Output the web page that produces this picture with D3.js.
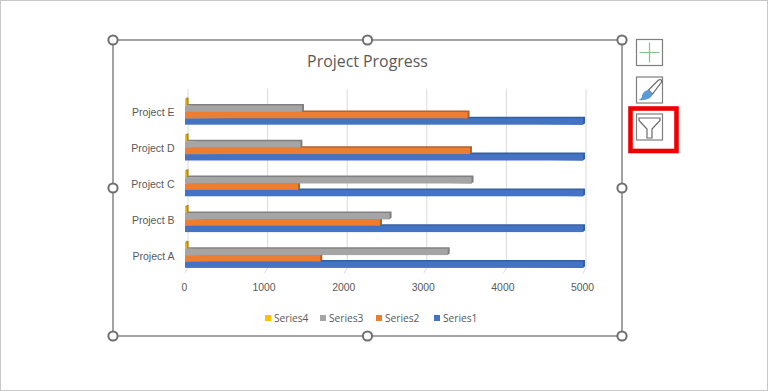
<!DOCTYPE html>
<html>
<head>
<meta charset="utf-8">
<script src="https://cdn.jsdelivr.net/npm/d3@7"></script>
<style>
  html, body { margin: 0; padding: 0; background: #fff; }
  svg { display: block; font-family: "Open Sans", sans-serif; }
</style>
</head>
<body>
<div id="chart"></div>
<script>
// --- Data ---
const categories = ["Project E", "Project D", "Project C", "Project B", "Project A"];
const seriesNames = ["Series4", "Series3", "Series2", "Series1"];
const series4 = [20, 20, 20, 20, 20];
const series3 = [1470, 1450, 3600, 2570, 3300];
const series2 = [3550, 3580, 1420, 2450, 1700];
const series1 = [5000, 5000, 5000, 5000, 5000];
const xTicks = [0, 1000, 2000, 3000, 4000, 5000];
const title = "Project Progress";

const seriesValues = { Series4: series4, Series3: series3, Series2: series2, Series1: series1 };
const front = { Series4: "#ffc000", Series3: "#a5a5a5", Series2: "#ed7d31", Series1: "#4472c4" };
const shade = { Series4: "#b58a12", Series3: "#808080", Series2: "#b0602a", Series1: "#35609f" };

const width = 768, height = 391;
const frame = { left: 113, top: 40, right: 622, bottom: 336 };
const depth = { x: 2, y: 1.5 };   // fake 3D offset of the bars
const wallOffset = 3;             // gridlines sit on the back wall

const svg = d3.select("#chart").append("svg")
  .attr("width", width)
  .attr("height", height);

// window edge
svg.append("rect")
  .attr("x", 0.5).attr("y", 0.5)
  .attr("width", width - 1).attr("height", height - 1)
  .attr("fill", "#fff").attr("stroke", "#c8c8c8");

// --- Selection frame and handles ---
const midX = (frame.left + frame.right) / 2;
const midY = (frame.top + frame.bottom) / 2;
svg.append("rect")
  .attr("x", frame.left).attr("y", frame.top)
  .attr("width", frame.right - frame.left).attr("height", frame.bottom - frame.top)
  .attr("fill", "#fff").attr("stroke", "#8c8c8c").attr("stroke-width", 1.6);

const handles = [
  [frame.left, frame.top], [midX, frame.top], [frame.right, frame.top],
  [frame.left, midY], [frame.right, midY],
  [frame.left, frame.bottom], [midX, frame.bottom], [frame.right, frame.bottom]
];
svg.selectAll(".handle").data(handles).enter().append("circle")
  .attr("class", "handle")
  .attr("cx", d => d[0]).attr("cy", d => d[1]).attr("r", 4.6)
  .attr("fill", "#fff").attr("stroke", "#6f6f6f").attr("stroke-width", 2);

// --- Title ---
svg.append("text")
  .attr("x", 367.5).attr("y", 67)
  .attr("text-anchor", "middle")
  .attr("font-size", 15.9)
  .attr("fill", "#595959")
  .text(title);

// --- Scales ---
const x = d3.scaleLinear().domain([0, 5000]).range([185, 583]);
const y = d3.scaleBand().domain(categories).range([94, 273]).paddingInner(0.285).paddingOuter(0.1425);
const inner = d3.scaleBand().domain(seriesNames).range([0, y.bandwidth()]);

// --- Gridlines on the back wall, with the little floor ticks ---
const plotTop = 89, plotBottom = 268;
svg.append("g").selectAll("line").data(xTicks).enter().append("line")
  .attr("x1", d => x(d) + wallOffset).attr("x2", d => x(d) + wallOffset)
  .attr("y1", plotTop).attr("y2", plotBottom)
  .attr("stroke", "#d9d9d9");
svg.append("g").selectAll("line").data(xTicks).enter().append("line")
  .attr("x1", d => x(d)).attr("x2", d => x(d) + wallOffset)
  .attr("y1", plotBottom + 5).attr("y2", plotBottom)
  .attr("stroke", "#d9d9d9");

// --- Bars: bottom series first so upper fronts cover the top faces below ---
const barData = seriesNames.slice().reverse().flatMap(name =>
  categories.map((cat, i) => ({ name, cat, value: seriesValues[name][i] })));

const bars = svg.append("g").selectAll("g").data(barData).enter().append("g");

const barTop = d => y(d.cat) + inner(d.name);
const barEnd = d => x(d.value);

// top and end faces
bars.append("path")
  .attr("fill", d => shade[d.name])
  .attr("d", d => {
    const p = d3.path();
    const t = barTop(d), b = t + inner.bandwidth(), e = barEnd(d);
    p.moveTo(x(0), t);
    p.lineTo(x(0) + depth.x, t - depth.y);
    p.lineTo(e + depth.x, t - depth.y);
    p.lineTo(e + depth.x, b - depth.y);
    p.lineTo(e, b);
    p.closePath();
    return p.toString();
  });

// front faces
bars.append("rect")
  .attr("x", x(0))
  .attr("y", barTop)
  .attr("width", d => barEnd(d) - x(0))
  .attr("height", inner.bandwidth())
  .attr("fill", d => front[d.name]);

// --- Axes ---
const xAxis = svg.append("g")
  .attr("transform", `translate(0,${plotBottom + 5})`)
  .call(d3.axisBottom(x).tickValues(xTicks).tickFormat(d3.format("d")).tickSize(0).tickPadding(11));
xAxis.select(".domain").remove();
xAxis.selectAll("text")
  .attr("transform", "translate(-1,0)")
  .style("font-family", "inherit").style("font-size", "10.4px").style("fill", "#595959");

const yAxis = svg.append("g")
  .attr("transform", `translate(${x(0)},1.2)`)
  .call(d3.axisLeft(y).tickSize(0).tickPadding(10.5));
yAxis.select(".domain").remove();
yAxis.selectAll("text")
  .style("font-family", "inherit").style("font-size", "10.5px").style("fill", "#595959");

// --- Legend ---
const legendX = [265, 320, 376, 434];
const legend = svg.append("g").selectAll("g").data(seriesNames).enter().append("g")
  .attr("transform", (d, i) => `translate(${legendX[i]},315)`);
legend.append("rect")
  .attr("width", 6).attr("height", 6)
  .attr("fill", d => front[d]);
legend.append("text")
  .attr("x", 9).attr("y", 6.5)
  .attr("font-size", 10.2)
  .attr("fill", "#595959")
  .text(d => d);

// --- Chart tool buttons ---
const btnX = 636.5, btnSize = 26;
const btnY = [39.5, 77, 114];
svg.append("g").selectAll("rect").data(btnY).enter().append("rect")
  .attr("x", btnX).attr("y", d => d)
  .attr("width", btnSize).attr("height", btnSize)
  .attr("fill", "#fff").attr("stroke", "#7f7f7f").attr("stroke-width", 1.2);

// plus
svg.append("path")
  .attr("d", `M${btnX + 13},${btnY[0] + 3}V${btnY[0] + 23}M${btnX + 3},${btnY[0] + 13}H${btnX + 23}`)
  .attr("stroke", "#7cc394").attr("stroke-width", 1.2).attr("fill", "none");

// brush
const brush = svg.append("g").attr("transform", `translate(${btnX},${btnY[1]})`);
brush.append("path")
  .attr("d", "M12,13 L22,3 Q25.5,1.5 25,5 L16,17 Z")
  .attr("fill", "#fff").attr("stroke", "#6b6b6b").attr("stroke-width", 1.2);
brush.append("path")
  .attr("d", "M11,13 Q15,14 16,18 Q13,24 2,23 Q6,21 5.5,18.5 Q7,14 11,13 Z")
  .attr("fill", "#5b9bd5");

// funnel
const funnel = svg.append("g").attr("transform", `translate(${btnX},${btnY[2]})`);
funnel.append("path")
  .attr("d", "M2.5,4 H23.5 V6.5 L15.5,15 V24 H10.5 V15 L2.5,6.5 Z")
  .attr("fill", "none").attr("stroke", "#6b6b6b").attr("stroke-width", 1.2);

// red highlight around the filter button
svg.append("rect")
  .attr("x", 630.5).attr("y", 108.5)
  .attr("width", 46).attr("height", 42.5)
  .attr("fill", "none").attr("stroke", "#ee0000").attr("stroke-width", 4.6);
</script>
</body>
</html>
